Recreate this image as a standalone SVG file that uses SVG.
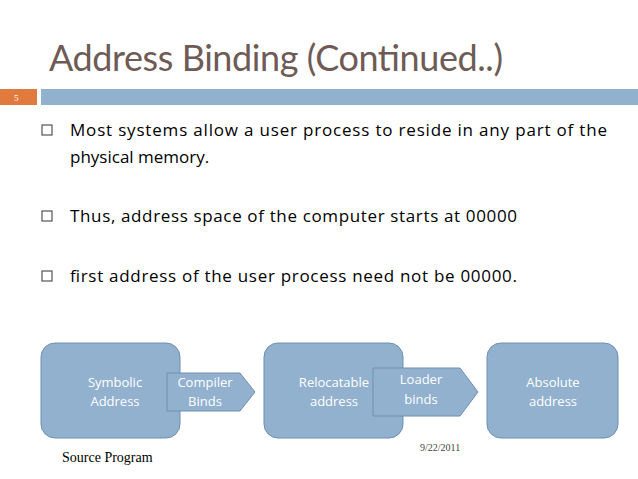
<svg xmlns="http://www.w3.org/2000/svg" width="638" height="479" viewBox="0 0 638 479">
<style>
.t{font-family:"Open Sans","Liberation Sans",sans-serif;fill:#000;font-size:17px}
.b{fill:none;stroke:#333;stroke-width:1}
.n{fill:#92b1cf;stroke:#6d8fb0;stroke-width:1}
.w{font-family:"Open Sans","Liberation Sans",sans-serif;fill:#fff;font-size:13px;text-anchor:middle}
.s{font-family:"Liberation Serif",serif;fill:#000}
</style>
<rect width="638" height="479" fill="#fff"/>
<text x="49" y="71" font-family="Lato,'Open Sans',sans-serif" font-size="36" fill="#6e5b55" textLength="454">Address Binding (Continued..)</text>
<rect x="0" y="89" width="37" height="16" fill="#e07b3d"/>
<text x="14" y="101" class="s" font-size="9" style="fill:#fff">5</text>
<rect x="41" y="89" width="597" height="16" fill="#92b1cf"/>
<rect class="b" x="42" y="125" width="10" height="10"/>
<text class="t" x="70" y="136" textLength="537">Most systems allow a user process to reside in any part of the</text>
<text class="t" x="70" y="163">physical memory.</text>
<rect class="b" x="42" y="211" width="10" height="10"/>
<text class="t" x="70" y="222" textLength="447">Thus, address space of the computer starts at 00000</text>
<rect class="b" x="42" y="271" width="10" height="10"/>
<text class="t" x="70" y="282" textLength="447">first address of the user process need not be 00000.</text>
<g id="n1"><rect class="n" x="41" y="343" width="139" height="95" rx="14"/><text class="w" x="115" y="387">Symbolic</text><text class="w" x="115" y="406">Address</text></g>
<g id="n2"><rect class="n" x="264" y="343" width="139" height="95" rx="14"/><text class="w" x="334" y="387">Relocatable</text><text class="w" x="334" y="406">address</text></g>
<g id="n3"><rect class="n" x="487" y="343" width="131" height="95" rx="14"/><text class="w" x="553" y="387">Absolute</text><text class="w" x="553" y="406">address</text></g>
<g id="connectors">
<g id="c1"><polygon class="n" points="167,373 240,373 255,392 240,411 167,411"/><text class="w" x="205" y="387">Compiler</text><text class="w" x="205" y="406">Binds</text></g>
<g id="c2"><polygon class="n" points="373,368 460,368 478,392 460,416 373,416"/><text class="w" x="421" y="384">Loader</text><text class="w" x="421" y="404">binds</text></g>
</g>
<text class="s" x="62" y="462" font-size="14">Source Program</text>
<text class="s" x="420" y="451" font-size="10" style="fill:#444">9/22/2011</text>
</svg>
